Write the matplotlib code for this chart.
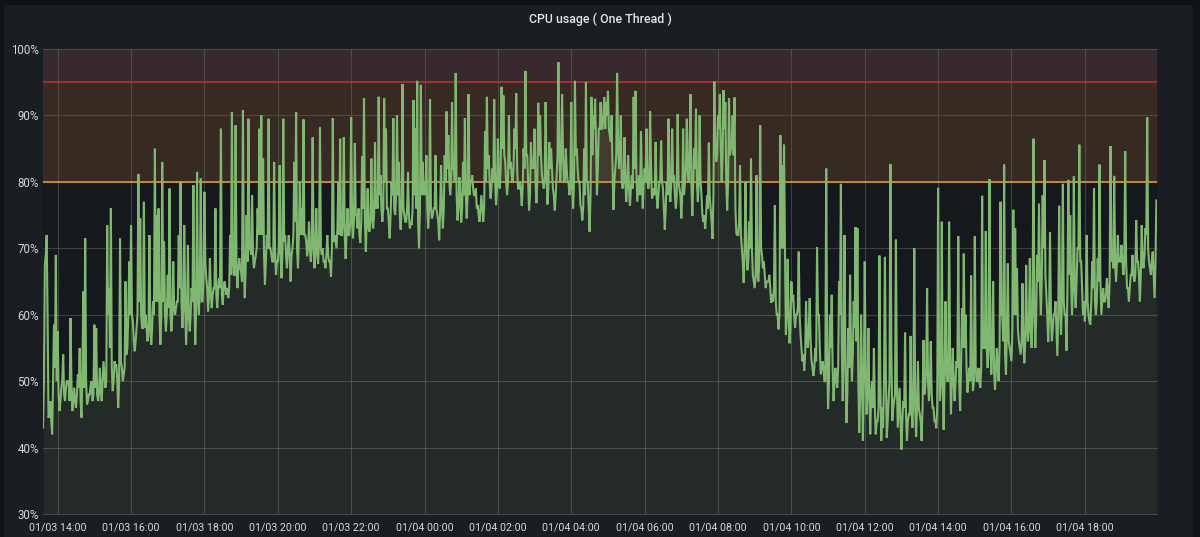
import pandas as pd
import matplotlib.pyplot as plt
import matplotlib.dates as mdates
from matplotlib.patches import Rectangle

plt.rcParams["font.family"] = ["Roboto", "DejaVu Sans"]

# CPU 使用率，尖峰读数，每 3 分钟一个点，按两小时分段
cpu_0136 = [43, 67.5, 72, 44.5, 47, 42, 58.5, 69]
cpu_1400 = [57.5, 45.5, 49, 54, 47, 50, 49.5, 59.5, 45.5, 49, 46, 51, 55, 44.5, 63.5, 71.5, 46.5, 48, 49.5, 47,
            58.5, 58, 47, 52, 47, 53, 49, 73.5, 64, 76, 48.5, 53, 52.5, 46, 71.5, 52, 51, 65, 55, 68]
cpu_1600 = [73.5, 59, 54.5, 58, 81.2, 74.5, 58, 77, 60, 56, 72, 55.5, 62, 85, 75, 76, 55.5, 83, 71, 57.5,
            66, 79, 57.5, 68, 60, 62, 72, 80, 58, 73.5, 55.5, 70.5, 57.5, 64, 79.5, 55.5, 81.5, 60, 80.5, 62]
cpu_1800 = [78.5, 65.5, 60.5, 68.5, 61, 64, 76, 61, 65.5, 88, 61.5, 65, 63, 62.5, 72, 90.5, 66, 88.5, 64, 68.5,
            66.5, 90.8, 62.5, 75, 89.5, 70, 78, 67, 69, 76, 88, 90, 83.5, 64.5, 72, 89.5, 70, 68, 83, 66]
cpu_2000 = [68, 82.5, 65.5, 89.5, 72, 67, 72, 65, 70, 83, 90.5, 67, 80, 76, 89.4, 72, 68.8, 74, 68, 86.7,
            67, 76, 67.7, 88.2, 69, 68, 67, 72, 68, 65.7, 89.6, 72, 70, 80, 86.5, 72, 86.7, 68.4, 76, 72]
cpu_2200 = [89.7, 71.5, 85.8, 75, 76, 70.8, 83.8, 92.6, 69.5, 79, 72.5, 83.5, 73, 86, 77, 92.8, 81, 74, 92.6, 88,
            76, 71.5, 80, 89.6, 75, 90, 83, 72.8, 94.7, 75, 74, 81.5, 73, 73.5, 92.3, 88, 95.2, 70, 94.6, 83]
cpu_0000 = [80, 84, 73, 92.4, 74.5, 76, 84, 75, 71.2, 82.5, 73, 84, 90.6, 87, 78, 92, 82, 96.4, 74.2, 80.7,
            73.9, 83, 89.6, 74.5, 93.2, 80, 81, 78, 79, 76.5, 74, 78, 74, 87.6, 92.8, 84, 77.5, 82, 92.4, 76.5]
cpu_0200 = [86.5, 79, 94.3, 93, 83, 78, 90, 83, 80, 88, 93.3, 79, 80, 76.4, 85, 96.7, 84, 75.7, 86, 83,
            88, 76.8, 91.9, 90, 81, 79, 92, 76.6, 86, 85, 79, 75.7, 81, 98, 80, 93.2, 80, 85, 80, 78]
cpu_0400 = [92, 76, 95.2, 85, 80, 76.5, 74.2, 85, 95, 80, 72.5, 92.8, 90, 92.5, 78, 88, 92, 88, 92.7, 92,
            93.7, 87, 90, 75.8, 82, 96.4, 82, 90, 79, 86.7, 77, 84, 76.4, 81, 92.8, 93.7, 77, 81, 87.6, 76]
cpu_0600 = [82, 88, 79, 90.6, 77.5, 79, 86, 76, 80, 86.2, 79, 72.8, 80, 89.5, 77, 88, 81, 76, 90.2, 79,
            74.5, 88, 80, 89.5, 80, 93.2, 74.9, 85, 91, 77, 90, 78, 74, 72.9, 78, 85.9, 76, 71.4, 95.1, 83]
cpu_0800 = [90, 93.2, 80, 93.8, 92, 75.7, 92.6, 85, 90, 92.7, 72.2, 72, 82.5, 70, 64.8, 80, 66.7, 74, 83.5, 66,
            64, 81, 65, 88.5, 69, 68, 64, 65, 66, 61.8, 62, 76.5, 60, 57.8, 87, 82.5, 85.6, 57, 68.4, 55.7]
cpu_1000 = [65, 63, 58, 60, 69.5, 57, 53, 51.6, 62, 55, 62.5, 53, 50.8, 55, 70.2, 60, 51, 53, 50, 82,
            45.8, 60, 63, 47, 52, 49, 65, 79.7, 47, 72, 43.7, 58, 66, 50, 62, 73.2, 73, 42.2, 60, 41]
cpu_1200 = [68, 45, 58, 42, 50, 55, 42, 44, 68.9, 41, 43, 68.7, 41.5, 47, 82.7, 44, 47, 71.3, 43, 49,
            39.7, 47, 57.3, 41, 45, 56.8, 43, 70, 41.6, 53, 45, 41, 56.2, 49, 64, 47, 56, 46, 44, 42.9]
cpu_1400b = [79.1, 47, 74, 42.7, 62, 50, 74, 45, 55, 47, 53, 71.8, 45.5, 61, 69.2, 60, 48.3, 52, 65.9, 48.5,
             71.8, 50, 52, 49, 77.9, 55, 72.6, 52, 80.4, 51, 65, 48.7, 55, 50, 77, 60, 82.6, 51, 67.7, 55]
cpu_1600b = [53, 75.8, 73, 67, 56, 54, 64.7, 52.7, 67.5, 56, 68.5, 55, 86.5, 55, 69, 76.7, 60, 78, 83.3, 63,
             55.9, 72.4, 56, 60, 62, 53.8, 76.4, 57, 79.7, 60, 54.6, 80.3, 75, 60, 80.8, 61, 70, 85.6, 68, 60]
cpu_1800b = [59, 72, 60, 58.5, 68, 79, 60, 68.5, 82.6, 60, 64, 62, 65.5, 61, 85.4, 70, 80.9, 65, 72, 68,
             70.5, 66, 84.6, 64, 62, 66, 69, 65, 74.2, 68, 62, 73.5, 67, 73, 89.7, 68, 66, 69.5, 62.5, 77.2]

# 尖峰之间贴近下沿的读数
mid_0136 = [50, 69, 60, 45, 44, 50, 52, 50]
mid_1400 = [48, 47, 50, 48, 49, 50, 47, 50, 47, 47, 48, 49, 47, 52, 49, 50, 47, 48, 50, 48,
            49, 48, 48, 49, 50, 51, 50, 60, 55, 52, 50, 52, 50, 50, 53, 50, 52, 54, 60, 60]
mid_1600 = [60, 56, 56, 60, 62, 60, 58, 58, 58, 57, 59, 58, 60, 62, 62, 60, 60, 62, 60, 60,
            61, 60, 60, 61, 61, 62, 64, 62, 61, 62, 60, 60, 60, 62, 62, 61, 63, 65, 62, 66]
mid_1800 = [68, 64, 63, 63, 63, 64, 63, 64, 64, 63, 64, 64, 64, 64, 66, 68, 66, 67, 67, 67,
            65, 68, 67, 68, 70, 69, 69, 68, 70, 72, 72, 72, 69, 68, 70, 70, 69, 68, 70, 68]
mid_2000 = [70, 69, 69, 71, 69, 70, 69, 69, 72, 74, 70, 72, 72, 72, 72, 71, 70, 70, 70, 71,
            70, 69, 71, 70, 70, 68, 69, 69, 68, 70, 71, 71, 73, 72, 72, 74, 72, 72, 72, 74]
mid_2200 = [74, 74, 75, 73, 72, 74, 76, 74, 74, 73, 74, 75, 75, 76, 76, 78, 76, 76, 80, 76,
            74, 75, 78, 76, 78, 78, 75, 76, 76, 74, 76, 75, 74, 76, 78, 76, 74, 76, 78, 78]
mid_0000 = [78, 76, 76, 76, 75, 76, 76, 74, 76, 76, 76, 80, 82, 80, 80, 82, 80, 78, 76, 78,
            76, 78, 78, 78, 78, 80, 79, 78, 76, 75, 76, 76, 76, 80, 82, 80, 79, 80, 80, 79]
mid_0200 = [80, 82, 85, 84, 80, 80, 82, 81, 82, 85, 82, 79, 79, 79, 82, 84, 80, 78, 82, 82,
            80, 80, 84, 84, 80, 80, 82, 79, 82, 82, 78, 78, 84, 84, 84, 84, 80, 82, 80, 79]
mid_0400 = [80, 80, 84, 82, 80, 76, 76, 78, 80, 76, 78, 84, 88, 86, 82, 88, 88, 90, 88, 90,
            88, 86, 82, 80, 84, 86, 84, 80, 80, 80, 80, 79, 79, 79, 82, 82, 79, 78, 80, 80]
mid_0600 = [80, 80, 80, 82, 78, 78, 78, 78, 80, 80, 76, 76, 78, 80, 80, 80, 78, 78, 80, 78,
            78, 78, 82, 82, 84, 80, 80, 82, 80, 80, 80, 75, 75, 75, 76, 78, 74, 78, 86, 84]
mid_0800 = [88, 85, 84, 88, 80, 80, 84, 86, 84, 76, 72, 74, 72, 68, 70, 70, 68, 70, 70, 65,
            66, 66, 68, 70, 67, 66, 65, 65, 64, 63, 64, 62, 60, 60, 70, 70, 70, 60, 60, 58]
mid_1000 = [62, 60, 60, 61, 60, 55, 54, 54, 56, 58, 56, 52, 52, 53, 60, 55, 52, 52, 50, 55,
            50, 55, 52, 50, 50, 52, 60, 55, 56, 52, 48, 52, 55, 54, 58, 56, 50, 48, 50, 50]
mid_1200 = [52, 48, 48, 48, 46, 46, 44, 46, 50, 46, 50, 52, 44, 50, 55, 46, 48, 50, 46, 44,
            44, 46, 45, 44, 45, 46, 48, 46, 46, 46, 44, 46, 48, 52, 50, 50, 48, 46, 44, 46]
mid_1400b = [55, 50, 50, 50, 52, 50, 55, 50, 50, 50, 52, 50, 52, 55, 55, 52, 50, 50, 52, 50,
             52, 50, 50, 52, 55, 55, 55, 55, 56, 55, 52, 52, 52, 55, 60, 56, 54, 58, 56, 54]
mid_1600b = [58, 60, 60, 58, 55, 56, 56, 56, 58, 58, 58, 62, 60, 60, 65, 65, 65, 70, 66, 60,
             60, 60, 58, 60, 58, 60, 62, 62, 62, 60, 64, 66, 65, 64, 64, 65, 70, 68, 64, 62]
mid_1800b = [62, 62, 59, 62, 64, 62, 62, 65, 65, 62, 62, 63, 63, 65, 68, 67, 68, 68, 68, 68,
             68, 68, 68, 64, 64, 66, 66, 66, 68, 66, 66, 68, 69, 72, 70, 67, 68, 66, 68]

cpu_peaks = (cpu_0136 + cpu_1400 + cpu_1600 + cpu_1800 + cpu_2000 + cpu_2200 + cpu_0000 + cpu_0200 + cpu_0400
             + cpu_0600 + cpu_0800 + cpu_1000 + cpu_1200 + cpu_1400b + cpu_1600b + cpu_1800b)
cpu_mids = (mid_0136 + mid_1400 + mid_1600 + mid_1800 + mid_2000 + mid_2200 + mid_0000 + mid_0200 + mid_0400
            + mid_0600 + mid_0800 + mid_1000 + mid_1200 + mid_1400b + mid_1600b + mid_1800b)

cpu = []
for i, v in enumerate(cpu_peaks):
    cpu.append(v)
    if i < len(cpu_peaks) - 1:
        cpu.append(cpu_mids[i])
times = pd.date_range("2021-01-03 13:36", periods=len(cpu), freq="90s")

warn_level = 80
crit_level = 95
y_ticks = [30, 40, 50, 60, 70, 80, 90, 100]
x_ticks = pd.date_range("2021-01-03 14:00", "2021-01-04 18:00", freq="2h")

W, H = 1200, 537
fig = plt.figure(figsize=(W / 100, H / 100), dpi=100, facecolor="#111217")
fig.add_artist(Rectangle((4 / W, 0), (1193 - 4) / W, 1 - 5 / H, transform=fig.transFigure,
                         facecolor="#1a1d21", edgecolor="none", zorder=-1))

ax = fig.add_axes([43 / W, 1 - 514 / H, (1157 - 43) / W, (514 - 49) / H])
ax.set_facecolor("#15181d")

# 阈值色带
ax.axhspan(warn_level, crit_level, facecolor="#372a22", edgecolor="none", zorder=0)
ax.axhspan(crit_level, 100, facecolor="#38292f", edgecolor="none", zorder=0)

ax.fill_between(times, 30, cpu, color="#abcc8b", alpha=0.1, linewidth=0, zorder=1)
ax.grid(True, color="#62635f", linewidth=0.8, alpha=0.55)
ax.set_axisbelow(True)
for gl in ax.get_ygridlines():
    gl.set_clip_on(False)
ax.plot(times, cpu, color="#80b872", linewidth=1.5, solid_joinstyle="miter", zorder=3)
ax.axhline(warn_level, color="#d9963f", linewidth=1.2, zorder=2.5)
ax.axhline(crit_level, color="#b3342b", linewidth=1.2, zorder=2.5)

ax.set_xlim(pd.Timestamp("2021-01-03 13:36"), pd.Timestamp("2021-01-04 19:58"))
ax.set_ylim(30, 100)
ax.set_xticks(x_ticks)
ax.xaxis.set_major_formatter(mdates.DateFormatter("%m/%d %H:%M"))
ax.set_yticks(y_ticks)
ax.set_yticklabels([f"{v}%" for v in y_ticks])
ax.tick_params(axis="x", length=0, colors="#d8d9da", labelsize=7.7, pad=6)
ax.tick_params(axis="y", length=0, colors="#d8d9da", labelsize=8.3, pad=3)
for s in ax.spines.values():
    s.set_visible(False)

fig.text(600 / W, 1 - 19.5 / H, "CPU usage ( One Thread )", color="#e4e5e6", fontsize=8.9,
         fontweight="medium", ha="center", va="center")

fig.savefig("out.png", dpi=100, facecolor=fig.get_facecolor())
